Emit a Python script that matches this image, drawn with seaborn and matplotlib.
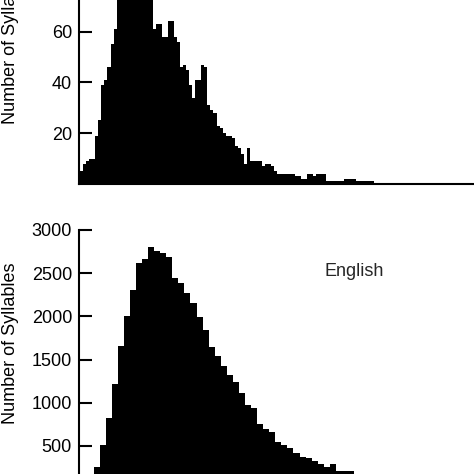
import matplotlib
matplotlib.use("Agg")
import matplotlib.pyplot as plt
import pandas as pd
import seaborn as sns

# Syllable duration histograms, counts.
# top panel: 5 ms bins from 0 ms (panel is cut at the top edge of the image)
TOP_START = 0
TOP_BIN = 5
top_counts = [
    5, 8, 9, 10, 10, 19, 25, 39, 41, 46,
    55, 61, 74, 76, 79, 75, 81, 78, 84, 77,
    80, 76, 74, 74, 61, 63, 63, 58, 58, 64,
    64, 58, 56, 46, 47, 45, 39, 34, 41, 41,
    47, 46, 31, 29, 28, 23, 22, 20, 19, 19,
    18, 15, 14, 12, 8, 14, 9, 9, 9, 9,
    7, 8, 8, 7, 5, 4, 4, 4, 4, 4,
    4, 3, 3, 2, 2, 4, 4, 3, 4, 4,
    4, 1, 1, 1, 1, 1, 1, 2, 2, 2,
    2, 1, 1, 1, 1, 1, 1,
]
top_ticks = [20, 40, 60]

# English panel: 10 ms bins from 22 ms (cut at the bottom edge of the image)
ENG_START = 22
ENG_BIN = 10
english_counts = [
    253, 508, 828, 1218, 1654, 2001, 2302, 2622, 2668, 2800,
    2760, 2737, 2691, 2441, 2390, 2274, 2159, 1997, 1843, 1650,
    1542, 1426, 1322, 1237, 1110, 975, 936, 755, 693, 666,
    550, 512, 473, 422, 369, 360, 326, 288, 262, 288,
    214, 214, 214,
]
eng_ticks = [500, 1000, 1500, 2000, 2500, 3000]
eng_label = "English"

W = 474.0


def px_rect(left, top, width, height):
    # pixel box (from top-left) -> figure fraction
    return [left / W, (W - top - height) / W, width / W, height / W]


def draw_hist(ax, start, width, counts):
    edges = [start + width * i for i in range(len(counts) + 1)]
    df = pd.DataFrame({"ms": [e + width / 2 for e in edges[:-1]],
                       "n": counts})
    sns.histplot(data=df, x="ms", weights="n", bins=edges, element="step",
                 fill=True, color="black", alpha=1, linewidth=0, ax=ax)
    ax.set_xlim(-2, 650)
    ax.set_xticks([])
    ax.set_xlabel("")
    sns.despine(ax=ax)
    for s in ("left", "bottom"):
        ax.spines[s].set_linewidth(1.5)
        ax.spines[s].set_color("black")
    ax.tick_params(axis="y", direction="in", length=9, width=1.5,
                   labelsize=13, pad=5, colors="black")
    ax.set_ylabel("Number of Syllables", fontsize=13, color="black")


sns.set_style("ticks")
plt.rcParams["font.family"] = ["Liberation Sans", "DejaVu Sans"]

fig = plt.figure(figsize=(4.74, 4.74), dpi=100)

# top panel, 2.54 px per syllable, baseline at y=184
ax_top = fig.add_axes(px_rect(79, 184 - 111 * 2.54, 395, 111 * 2.54))
draw_hist(ax_top, TOP_START, TOP_BIN, top_counts)
ax_top.set_ylim(0, 111)
ax_top.set_yticks(top_ticks)
ax_top.yaxis.set_label_coords(-0.152, 0.5)

# English panel, 3000 at y=230, 0 at y=489
ax_eng = fig.add_axes(px_rect(79, 230, 395, 259.2))
draw_hist(ax_eng, ENG_START, ENG_BIN, english_counts)
ax_eng.set_ylim(0, 3000)
ax_eng.set_yticks(eng_ticks)
ax_eng.yaxis.set_label_coords(-0.152, 0.564)
ax_eng.text(452, 2515, eng_label, ha="center", va="center", fontsize=13)

fig.savefig("out.png", dpi=100)
